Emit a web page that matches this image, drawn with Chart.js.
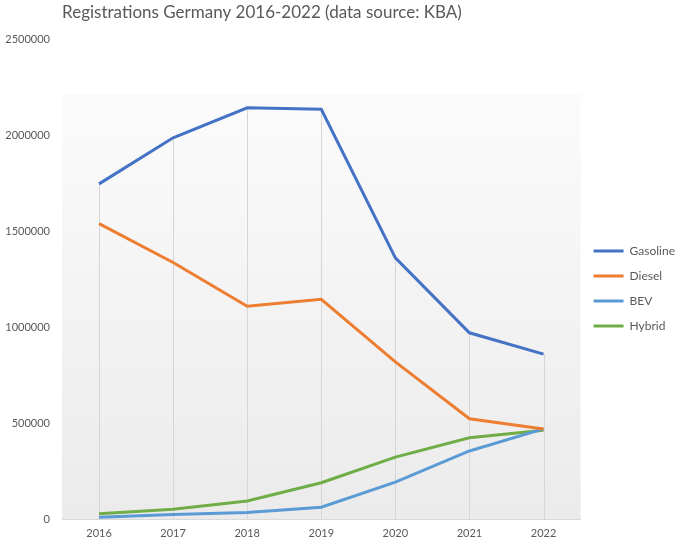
<!DOCTYPE html>
<html>
<head>
<meta charset="utf-8">
<script src="https://cdn.jsdelivr.net/npm/chart.js@4/dist/chart.umd.min.js"></script>
<style>
  html, body { margin: 0; padding: 0; background: #ffffff; }
  #wrap { position: relative; width: 685px; height: 538px; }
</style>
</head>
<body>
<div id="wrap"><canvas id="chart"></canvas></div>
<script>
// Registrations per year
const years = ['2016', '2017', '2018', '2019', '2020', '2021', '2022'];
const gasoline = [1746000, 1986000, 2142000, 2134000, 1361000, 971000, 860000];
const diesel = [1539000, 1337000, 1109000, 1145000, 820000, 524000, 470000];
const bev = [11000, 25000, 36000, 63000, 194000, 356000, 471000];
const hybrid = [30000, 53000, 96000, 191000, 324000, 425000, 464000];
const yTicks = [0, 500000, 1000000, 1500000, 2000000, 2500000];

const titleText = 'Registrations Germany 2016-2022 (data source: KBA)';
const fontFamily = 'Lato, "Open Sans", sans-serif';
const textColor = '#595959';

// Plot area background: white at the top fading to light grey
const plotBackground = {
    id: 'plotBackground',
    beforeDraw(chart) {
        const { ctx, chartArea } = chart;
        const top = chartArea.top + 55;
        const g = ctx.createLinearGradient(0, top, 0, chartArea.bottom);
        g.addColorStop(0, '#fbfbfb');
        g.addColorStop(1, '#ebebeb');
        ctx.save();
        ctx.fillStyle = g;
        ctx.fillRect(chartArea.left, top, chartArea.right - chartArea.left, chartArea.bottom - top);
        ctx.restore();
    }
};

// Excel style drop lines: from the highest point of each category down to the axis
const dropLines = {
    id: 'dropLines',
    beforeDatasetsDraw(chart) {
        const { ctx, scales } = chart;
        const x = scales.x, y = scales.y;
        ctx.save();
        ctx.strokeStyle = '#d6d6d6';
        ctx.lineWidth = 1;
        years.forEach((yr, i) => {
            const top = Math.max(...chart.data.datasets.map(d => d.data[i]));
            const px = Math.round(x.getPixelForValue(i)) + 0.5;
            ctx.beginPath();
            ctx.moveTo(px, y.getPixelForValue(top));
            ctx.lineTo(px, y.getPixelForValue(0));
            ctx.stroke();
        });
        ctx.restore();
    }
};

// Title, centred the way the original is
const chartTitle = {
    id: 'chartTitle',
    afterDraw(chart) {
        const ctx = chart.ctx;
        ctx.save();
        ctx.font = '17px ' + fontFamily;
        ctx.fillStyle = textColor;
        ctx.textAlign = 'center';
        ctx.textBaseline = 'middle';
        ctx.fillText(titleText, 262, 13);
        ctx.restore();
    }
};

function makeLine(label, data, color) {
    return {
        label: label,
        data: data,
        borderColor: color,
        backgroundColor: color,
        borderWidth: 3,
        pointRadius: 0,
        tension: 0,
        fill: false
    };
}

new Chart(document.getElementById('chart'), {
    type: 'line',
    data: {
        labels: years,
        datasets: [
            makeLine('Gasoline', gasoline, '#4472C4'),
            makeLine('Diesel', diesel, '#ED7D31'),
            makeLine('BEV', bev, '#5B9BD5'),
            makeLine('Hybrid', hybrid, '#70AD47')
        ]
    },
    options: {
        responsive: true,
        maintainAspectRatio: false,
        animation: false,
        layout: { padding: { top: 39, right: 0, bottom: 0, left: 0 } },
        plugins: {
            title: { display: false },
            tooltip: { enabled: false },
            legend: {
                position: 'right',
                labels: {
                    usePointStyle: true,
                    pointStyle: 'line',
                    pointStyleWidth: 30,
                    boxWidth: 30,
                    padding: 13,
                    color: textColor,
                    font: { family: fontFamily, size: 12 }
                }
            }
        },
        scales: {
            x: {
                offset: true,
                afterFit: axis => { axis.height = 18; },
                grid: { display: false, drawTicks: false },
                border: { display: true, color: '#d9d9d9', width: 1 },
                ticks: {
                    padding: 7,
                    color: textColor,
                    font: { family: fontFamily, size: 11 }
                }
            },
            y: {
                min: 0,
                max: 2500000,
                afterBuildTicks: axis => { axis.ticks = yTicks.map(v => ({ value: v })); },
                afterFit: axis => { axis.width = 62; },
                grid: { display: false, drawTicks: false },
                border: { display: false },
                ticks: {
                    padding: 12,
                    color: textColor,
                    font: { family: fontFamily, size: 11 },
                    callback: v => String(v)
                }
            }
        }
    },
    plugins: [plotBackground, dropLines, chartTitle]
});
</script>
</body>
</html>
